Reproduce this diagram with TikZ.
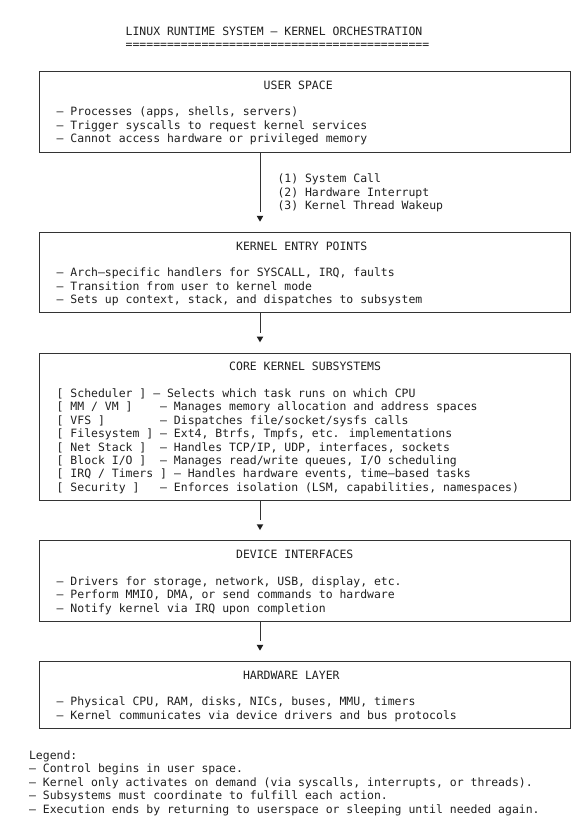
\documentclass[tikz,border=0pt]{standalone}
\usepackage{fontspec}
\newfontfamily\dmono{DejaVu Sans Mono}
\usetikzlibrary{shapes.geometric}
\begin{document}
\begin{tikzpicture}[x=1pt,y=-1pt,
  txt/.style={anchor=base west, inner sep=0pt, font=\dmono\fontsize{11.46}{13.4}\selectfont, text=black!88},
  boxst/.style={draw=black!80, line width=0.8pt, rectangle, inner sep=0pt, minimum width=531.4pt},
  tri/.style={regular polygon, regular polygon sides=3, shape border rotate=180, fill=black!88, inner sep=0pt, minimum size=7.6pt},
  conn/.style={draw=black!80, line width=0.8pt, shorten >=3.7pt}]
\useasboundingbox (0,0) rectangle (587,832);
\newcommand\tl[4]{\node[txt] (#1) at ({28.9+#2*6.9},{35.5+13.408*#3}) {#4};}
\newcommand\bx[3]{\node[boxst, minimum height={13.408*(#3-#2)}] (#1) at (304.9,{31.3+13.408*(#2+#3)/2}) {};}
\newcommand\tr[2]{\node[tri] (#1) at (260,{31.3+13.408*#2-1.2}) {};}
% title
\tl{title}{14}{0}{LINUX RUNTIME SYSTEM — KERNEL ORCHESTRATION}
\tl{rule}{14}{1}{============================================}
% boxes
\bx{b1}{3}{9}
\bx{b2}{15}{21}
\bx{b3}{24}{35}
\bx{b4}{38}{44}
\bx{b5}{47}{52}
% box 1
\tl{h1}{34}{4}{USER SPACE}
\tl{u1}{4}{6}{– Processes (apps, shells, servers)}
\tl{u2}{4}{7}{– Trigger syscalls to request kernel services}
\tl{u3}{4}{8}{– Cannot access hardware or privileged memory}
% labels
\tl{l1}{36}{11}{(1) System Call}
\tl{l2}{36}{12}{(2) Hardware Interrupt}
\tl{l3}{36}{13}{(3) Kernel Thread Wakeup}
% box 2
\tl{h2}{30}{16}{KERNEL ENTRY POINTS}
\tl{k1}{4}{18}{– Arch–specific handlers for SYSCALL, IRQ, faults}
\tl{k2}{4}{19}{– Transition from user to kernel mode}
\tl{k3}{4}{20}{– Sets up context, stack, and dispatches to subsystem}
% box 3
\tl{h3}{29}{25}{CORE KERNEL SUBSYSTEMS}
\tl{c1a}{4}{27}{[ Scheduler ]}   \tl{c1b}{18}{27}{– Selects which task runs on which CPU}
\tl{c2a}{4}{28}{[ MM / VM ]}     \tl{c2b}{19}{28}{– Manages memory allocation and address spaces}
\tl{c3a}{4}{29}{[ VFS ]}         \tl{c3b}{19}{29}{– Dispatches file/socket/sysfs calls}
\tl{c4a}{4}{30}{[ Filesystem ]}  \tl{c4b}{19}{30}{– Ext4, Btrfs, Tmpfs, etc. implementations}
\tl{c5a}{4}{31}{[ Net Stack ]}   \tl{c5b}{19}{31}{– Handles TCP/IP, UDP, interfaces, sockets}
\tl{c6a}{4}{32}{[ Block I/O ]}   \tl{c6b}{19}{32}{– Manages read/write queues, I/O scheduling}
\tl{c7a}{4}{33}{[ IRQ / Timers ]}\tl{c7b}{21}{33}{– Handles hardware events, time–based tasks}
\tl{c8a}{4}{34}{[ Security ]}    \tl{c8b}{19}{34}{– Enforces isolation (LSM, capabilities, namespaces)}
% box 4
\tl{h4}{30}{39}{DEVICE INTERFACES}
\tl{d1}{4}{41}{– Drivers for storage, network, USB, display, etc.}
\tl{d2}{4}{42}{– Perform MMIO, DMA, or send commands to hardware}
\tl{d3}{4}{43}{– Notify kernel via IRQ upon completion}
% box 5
\tl{h5}{31}{48}{HARDWARE LAYER}
\tl{w1}{4}{50}{– Physical CPU, RAM, disks, NICs, buses, MMU, timers}
\tl{w2}{4}{51}{– Kernel communicates via device drivers and bus protocols}
% legend
\tl{g0}{0}{54}{Legend:}
\tl{g1}{0}{55}{– Control begins in user space.}
\tl{g2}{0}{56}{– Kernel only activates on demand (via syscalls, interrupts, or threads).}
\tl{g3}{0}{57}{– Subsystems must coordinate to fulfill each action.}
\tl{g4}{0}{58}{– Execution ends by returning to userspace or sleeping until needed again.}
% arrows
\tr{t1}{14}
\tr{t2}{23}
\tr{t3}{37}
\tr{t4}{46}
\draw[conn] (b1.south -| t1.center) -- (t1.north);
\draw[conn] (b2.south -| t2.center) -- (t2.north);
\draw[conn] (b3.south -| t3.center) -- (t3.north);
\draw[conn] (b4.south -| t4.center) -- (t4.north);
\end{tikzpicture}
\end{document}
